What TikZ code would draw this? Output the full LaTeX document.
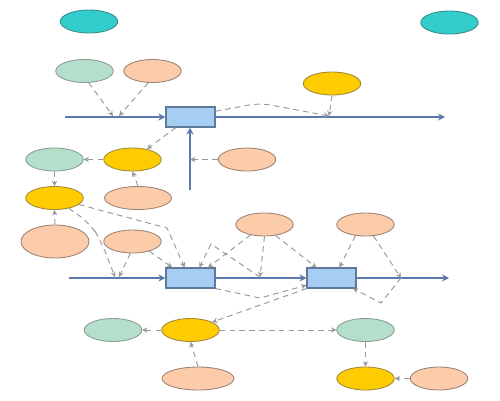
\documentclass[tikz,border=0pt]{standalone}
\usetikzlibrary{shapes.geometric,arrows.meta,calc}
\definecolor{tealf}{HTML}{33CCCC}
\definecolor{tealb}{HTML}{3A8C8C}
\definecolor{mintf}{HTML}{B3DFCB}
\definecolor{mintb}{HTML}{8C9C94}
\definecolor{peachf}{HTML}{FBCBAA}
\definecolor{peachb}{HTML}{9C8474}
\definecolor{yelf}{HTML}{FFCC00}
\definecolor{yelb}{HTML}{A08A3A}
\definecolor{boxf}{HTML}{A6CEF4}
\definecolor{boxb}{HTML}{5F7A99}
\definecolor{flowc}{HTML}{5A78AE}
\definecolor{depc}{HTML}{999999}
\tikzset{
  ell/.style={ellipse, draw, inner sep=0pt, line width=0.5pt, minimum width=1.15cm, minimum height=0.46cm},
  tealn/.style={ell, fill=tealf, draw=tealb},
  mintn/.style={ell, fill=mintf, draw=mintb},
  peachn/.style={ell, fill=peachf, draw=peachb},
  yeln/.style={ell, fill=yelf, draw=yelb},
  stockn/.style={rectangle, draw=boxb, fill=boxf, line width=0.6pt, inner sep=0pt, minimum width=0.98cm, minimum height=0.40cm},
  flow/.style={draw=flowc, line width=1.2pt, -{Stealth[length=4pt,width=4pt]}},
  dep/.style={draw=depc, line width=0.55pt, dash pattern=on 3.2pt off 2.4pt, -{Stealth[length=3pt,width=3pt]}}
}
\begin{document}
\begin{tikzpicture}[x=0.02cm,y=-0.02cm]
\useasboundingbox (0,0) rectangle (500,400);
% nodes
\node[tealn] (tealL) at (89,21.5) {};
\node[tealn] (tealR) at (449.5,22.5) {};
\node[mintn] (mA) at (84.5,71) {};
\node[peachn] (pA) at (152.5,71) {};
\node[yeln] (yA) at (332,83.5) {};
\node[stockn] (box1) at (190.5,117) {};
\node[peachn] (pB) at (247,159.5) {};
\node[mintn] (mB) at (54.5,159.5) {};
\node[yeln] (yB) at (132.5,159.5) {};
\node[yeln] (yC) at (54.5,198) {};
\node[peachn, minimum width=1.34cm] (pC) at (138,198) {};
\node[peachn, minimum width=1.36cm, minimum height=0.66cm] (pD) at (55,241.5) {};
\node[peachn] (pE) at (132.5,241.5) {};
\node[stockn] (box2) at (190.5,278) {};
\node[stockn] (box3) at (331.5,278) {};
\node[peachn] (pF) at (264.5,224.5) {};
\node[peachn] (pG) at (365.5,224.5) {};
\node[mintn] (mH) at (113,330) {};
\node[yeln] (yH) at (190.5,330) {};
\node[peachn, minimum width=1.44cm] (pH) at (198,378.5) {};
\node[mintn] (mI) at (365.5,330) {};
\node[yeln] (yI) at (365.5,378.5) {};
\node[peachn] (pI) at (439,378.5) {};
% coordinates
\coordinate (src1) at (65,117);
\coordinate (sink1) at (445,117);
\coordinate (vsrc) at (190,190);
\coordinate (v1) at (190,159.5);
\coordinate (j1a) at (113,116);
\coordinate (j1b) at (119,116);
\coordinate (k1) at (260,103);
\coordinate (j2) at (329,116);
\coordinate (src2) at (69,278);
\coordinate (sink2) at (449,278);
\coordinate (k2) at (167,228);
\coordinate (k2b) at (90,223);
\coordinate (k2c) at (101,241);
\coordinate (j3a) at (115,277);
\coordinate (j3b) at (119,277);
\coordinate (j4) at (260,277);
\coordinate (k3) at (211,244);
\coordinate (j5) at (401,278);
\coordinate (k4) at (381,303);
\coordinate (k5) at (260,298);
% flows
\draw[flow] (src1) -- (box1.west);
\draw[flow] (box1.east) -- (sink1);
\draw[flow] (vsrc) -- (box1.south -| vsrc);
\draw[flow] (src2) -- (box2.west);
\draw[flow] (box2.east) -- (box3.west);
\draw[flow] (box3.east) -- (sink2);
% dependencies
\draw[dep] (mA.-70) -- (j1a);
\draw[dep] (pA.-110) -- (j1b);
\draw[dep, rounded corners=6pt] (box1.13) -- (k1) -- (j2);
\draw[dep] (yA.south) -- (j2);
\draw[dep] (box1.216) -- (yB.36);
\draw[dep] (pB.west) -- (v1);
\draw[dep] (yB.west) -- (mB.east);
\draw[dep] (mB.south) -- (yC.north);
\draw[dep] (pC.north) -- (yB.south);
\draw[dep] (pD.north) -- (yC.south);
\draw[dep] (yC.-15) -- (k2) -- (box2.119);
\draw[dep, rounded corners=8pt] (yC.-36) -- (k2b) -- (k2c) -- (j3a);
\draw[dep] (pE.-100) -- (j3b);
\draw[dep] (pE.-30) -- (box2.150);
\draw[dep] (pF.217) -- (box2.31);
\draw[dep] (j4) -- (k3) -- (box2.50);
\draw[dep] (pF.south) -- (j4);
\draw[dep] (pF.-45) -- (box3.145);
\draw[dep] (pG.228) -- (box3.53);
\draw[dep] (pG.-55) -- (j5);
\draw[dep] (j5) -- (k4) -- (box3.-26);
\draw[dep] (box2.south east) -- (k5) -- (box3.196);
\draw[dep] (box3.203) -- (yH.20);
\draw[dep] (yH.east) -- (mI.west);
\draw[dep] (yH.west) -- (mH.east);
\draw[dep] (pH.north) -- (yH.south);
\draw[dep] (mI.south) -- (yI.north);
\draw[dep] (pI.west) -- (yI.east);
\end{tikzpicture}
\end{document}
